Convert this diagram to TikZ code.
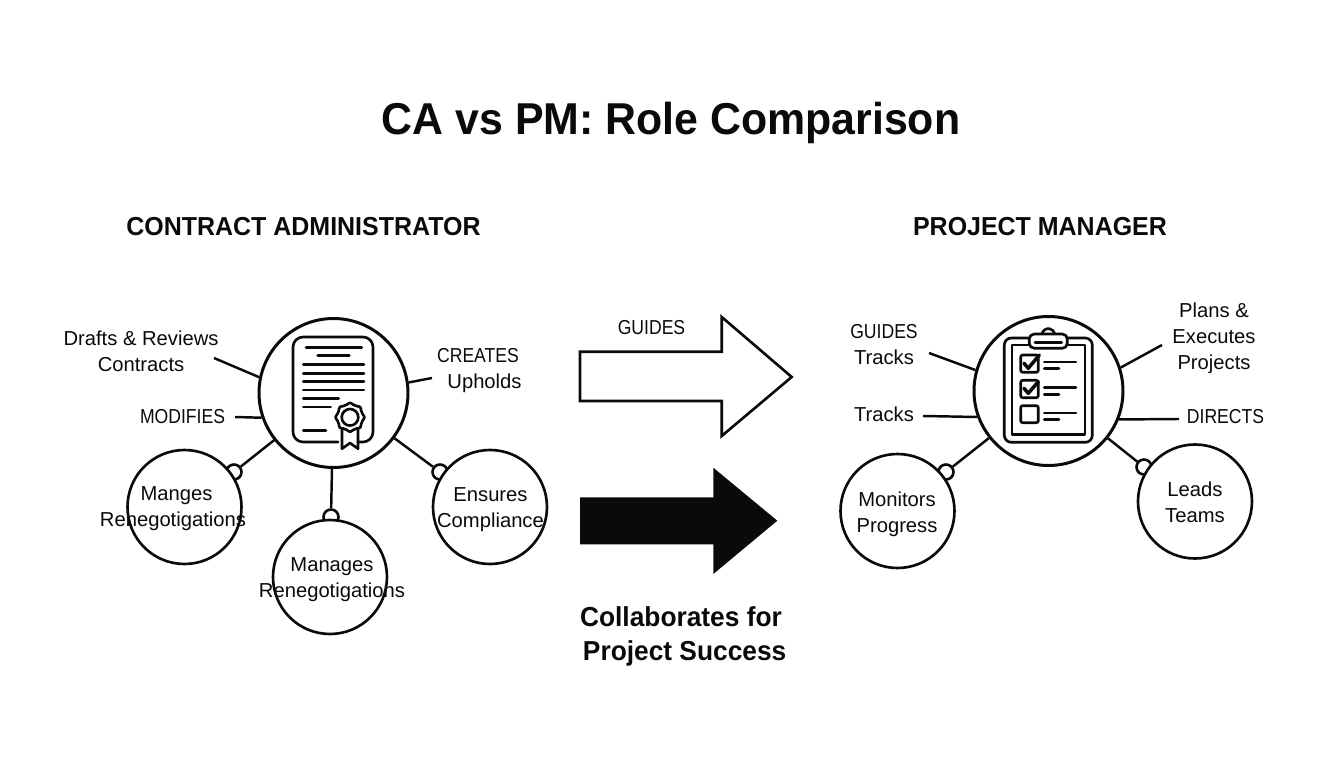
\documentclass[tikz,border=0pt]{standalone}
\usepackage{fontspec}
\setmainfont{Liberation Sans}
\newfontfamily\tightfont[FakeStretch=0.96]{Liberation Sans}
\newfontfamily\capfont[FakeStretch=0.87]{Liberation Sans}
\usepackage{xcolor}
\definecolor{inkblack}{HTML}{0A0A0A}

\begin{document}
\begin{tikzpicture}[
    every node/.style={text=inkblack},
    hub/.style={circle, draw=inkblack, line width=0.85pt, fill=white, inner sep=0pt, minimum size=1.49cm},
    duty/.style={circle, draw=inkblack, line width=0.75pt, fill=white, inner sep=0pt, minimum size=1.14cm},
    knob/.style={circle, draw=inkblack, line width=0.75pt, fill=white, inner sep=0pt, minimum size=0.15cm},
    lbl/.style={align=center, inner sep=0pt, font=\fontsize{5.75}{7.4}\selectfont},
    head/.style={inner sep=0pt, font=\fontsize{7.4}{9}\selectfont\tightfont\bfseries},
    link/.style={draw=inkblack, line width=0.7pt},
    icon/.style={draw=inkblack, line width=0.75pt, line cap=round, line join=round}]

    \useasboundingbox (0,0) rectangle (13.44,-7.68);

    % Headings
    \node[inner sep=0pt, font=\fontsize{12.7}{15}\selectfont\tightfont\bfseries] (title) at (6.71,-1.23) {CA vs PM: Role Comparison};
    \node[head] (cahead) at (3.035,-2.27) {CONTRACT ADMINISTRATOR};
    \node[head] (pmhead) at (10.40,-2.27) {PROJECT MANAGER};

    % Knobs
    \node[knob] (k1) at (2.34,-4.72) {};
    \node[knob] (k2) at (3.31,-5.17) {};
    \node[knob] (k3) at (4.40,-4.72) {};
    \node[knob] (k4) at (9.46,-4.72) {};
    \node[knob] (k5) at (11.44,-4.67) {};

    % Hubs
    \node[hub] (ca) at (3.335,-3.93) {};
    \node[hub] (pm) at (10.485,-3.91) {};

    % Duty circles
    \node[duty] (d1) at (1.845,-5.07) {};
    \node[duty] (d2) at (3.30,-5.77) {};
    \node[duty] (d3) at (4.90,-5.07) {};
    \node[duty] (d4) at (8.975,-5.11) {};
    \node[duty] (d5) at (11.95,-5.015) {};

    % Free ends
    \coordinate (e1) at (2.14,-3.58);
    \coordinate (e2) at (2.35,-4.17);
    \coordinate (e3) at (4.32,-3.78);
    \coordinate (e4) at (9.29,-3.53);
    \coordinate (e5) at (9.23,-4.16);
    \coordinate (e6) at (11.62,-3.45);
    \coordinate (e7) at (11.79,-4.19);

    % Edges
    \draw[link] (ca) -- (k1);
    \draw[link] (ca) -- (k2);
    \draw[link] (ca) -- (k3);
    \draw[link] (pm) -- (k4);
    \draw[link] (pm) -- (k5);
    \draw[link] (e1) -- (ca.168);
    \draw[link] (e2) -- (ca.199);
    \draw[link] (e3) -- (ca.8);
    \draw[link] (e4) -- (pm.164);
    \draw[link] (e5) -- (pm.200);
    \draw[link] (e6) -- (pm.18);
    \draw[link] (e7) -- (pm.338);

    % Labels
    \node[lbl] (l1) at (1.41,-3.515) {Drafts \& Reviews\\Contracts};
    \node[lbl] (l2) at (1.825,-4.17) {\capfont MODIFIES};
    \node[lbl] (l3) at (4.78,-3.71) {{\capfont CREATES}\\\hspace{3.7pt}Upholds};
    \node[lbl] (l4) at (1.73,-5.09) {\hspace{2pt}Manges\\Renegotigations};
    \node[lbl] (l5) at (3.32,-5.80) {Manages\\Renegotigations};
    \node[lbl] (l6) at (4.905,-5.10) {Ensures\\Compliance};
    \node[lbl] (l7) at (8.84,-3.445) {{\capfont GUIDES}\\Tracks};
    \node[lbl] (l8) at (8.84,-4.14) {Tracks};
    \node[lbl] (l9) at (12.14,-3.38) {Plans \&\\Executes\\Projects};
    \node[lbl] (l10) at (12.255,-4.17) {\capfont DIRECTS};
    \node[lbl] (l11) at (8.97,-5.14) {Monitors\\Progress};
    \node[lbl] (l12) at (11.95,-5.02) {Leads\\Teams};
    \node[lbl] (l13) at (6.515,-3.28) {\capfont GUIDES};

    % Arrows
    \draw[icon, line cap=butt, line join=miter] (5.80,-3.517) -- (7.217,-3.517) -- (7.217,-3.17) -- (7.917,-3.77) -- (7.217,-4.36) -- (7.217,-4.01) -- (5.80,-4.01) -- cycle;
    \fill[inkblack] (5.80,-4.973) -- (7.133,-4.973) -- (7.133,-4.677) -- (7.773,-5.207) -- (7.133,-5.74) -- (7.133,-5.443) -- (5.80,-5.443) -- cycle;
    \node[inner sep=0pt, align=center, font=\fontsize{7.8}{9.5}\selectfont\tightfont\bfseries] (collab) at (6.81,-6.365) {Collaborates for\\\ Project Success};

    % Document icon
    \draw[icon] (3.38,-4.42) -- (3.03,-4.42) arc (270:180:0.10) -- (2.93,-3.47) arc (180:90:0.10) -- (3.63,-3.37) arc (90:0:0.10) -- (3.73,-4.32) arc (360:270:0.10) -- (3.58,-4.42);
    \draw[icon] (3.06,-3.473) -- (3.617,-3.473);
    \draw[icon] (3.177,-3.557) -- (3.493,-3.557);
    \draw[icon] (3.033,-3.647) -- (3.64,-3.647);
    \draw[icon] (3.033,-3.733) -- (3.64,-3.733);
    \draw[icon] (3.033,-3.817) -- (3.64,-3.817);
    \draw[icon] (3.033,-3.90) -- (3.64,-3.90);
    \draw[icon] (3.033,-3.987) -- (3.387,-3.987);
    \draw[icon] (3.033,-4.07) -- (3.307,-4.07);
    \draw[icon] (3.033,-4.307) -- (3.26,-4.307);
    \draw[icon] (3.42,-4.29) -- (3.42,-4.487) -- (3.50,-4.43) -- (3.58,-4.487) -- (3.58,-4.29);
    \draw[icon, fill=white] plot[smooth cycle, domain=0:345, samples=24] ({3.50+(0.135+0.01*cos(8*\x))*cos(\x)}, {-4.173+(0.135+0.01*cos(8*\x))*sin(\x)});
    \draw[icon] (3.50,-4.173) circle (0.083);

    % Clipboard icon
    \draw[icon, rounded corners=0.07cm] (10.043,-3.38) rectangle (10.923,-4.423);
    \draw[icon] (10.12,-3.45) rectangle (10.85,-4.343);
    \draw[icon, fill=white] (10.42,-3.34) arc (170:10:0.065);
    \draw[icon, fill=white, rounded corners=0.05cm] (10.293,-3.34) rectangle (10.673,-3.483);
    \draw[icon] (10.35,-3.423) -- (10.617,-3.423);
    \draw[icon, rounded corners=0.02cm] (10.207,-3.55) rectangle (10.383,-3.723);
    \draw[icon, rounded corners=0.02cm] (10.207,-3.803) rectangle (10.383,-3.977);
    \draw[icon, rounded corners=0.02cm] (10.207,-4.057) rectangle (10.383,-4.227);
    \draw[icon, line width=1pt] (10.24,-3.633) -- (10.283,-3.683) -- (10.393,-3.55);
    \draw[icon, line width=1pt] (10.24,-3.883) -- (10.283,-3.933) -- (10.383,-3.817);
    \draw[icon] (10.443,-3.62) -- (10.76,-3.62);
    \draw[icon] (10.443,-3.687) -- (10.59,-3.687);
    \draw[icon] (10.443,-3.873) -- (10.76,-3.873);
    \draw[icon] (10.443,-3.943) -- (10.59,-3.943);
    \draw[icon] (10.443,-4.13) -- (10.76,-4.13);
    \draw[icon] (10.443,-4.193) -- (10.59,-4.193);
\end{tikzpicture}
\end{document}
